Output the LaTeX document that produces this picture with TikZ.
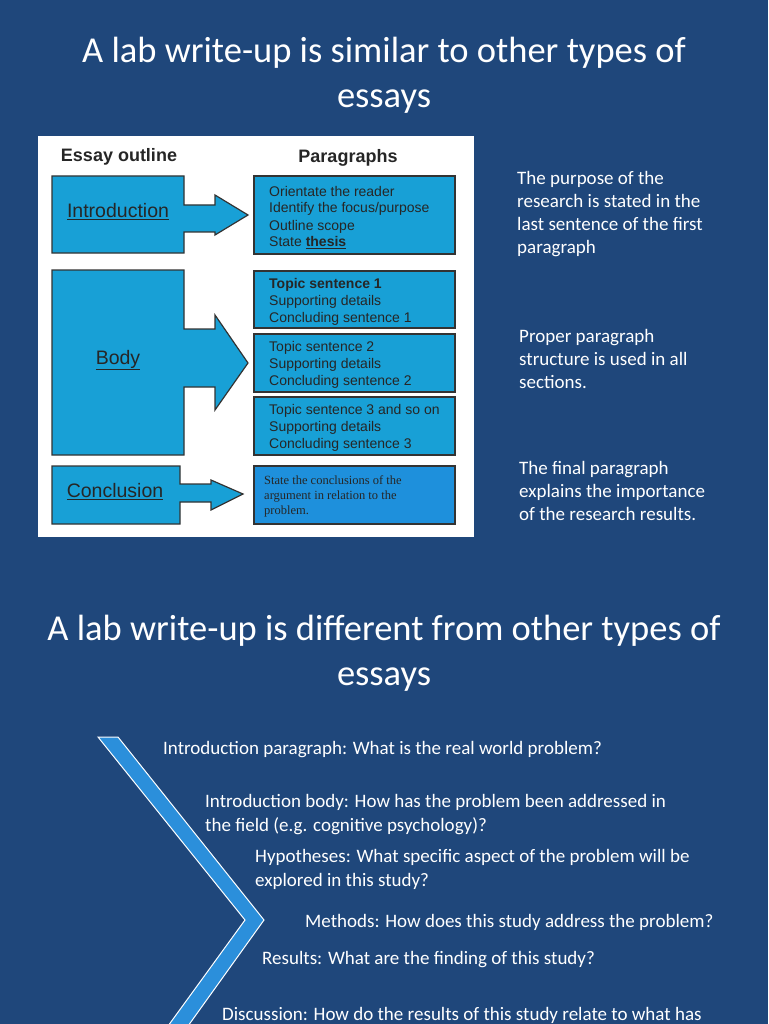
\documentclass[tikz,border=0pt]{standalone}
\usepackage{fontspec}
\setmainfont{Carlito}
\newfontfamily\arialf{Liberation Sans}
\newfontfamily\timesf{Liberation Serif}
\definecolor{bg}{HTML}{1F477B}
\definecolor{boxblue}{HTML}{18A0D6}
\definecolor{boxblue2}{HTML}{1E90DC}
\definecolor{chev}{HTML}{2B8FDB}
\tikzset{
  title/.style={text=white,font=\fontsize{36.5}{45}\selectfont,align=center},
  side/.style={text=white,font=\fontsize{19}{23}\selectfont,align=left,anchor=base west,inner sep=0pt},
  q/.style={text=white,font=\fontsize{19}{24}\selectfont,align=left,anchor=base west,inner sep=0pt},
  shp/.style={fill=boxblue,draw=black!80,line width=1.2pt},
  para/.style={anchor=base west,inner sep=0pt,align=left,font=\arialf\fontsize{14}{17}\selectfont,text=black!85},
  lbl/.style={font=\arialf\fontsize{19.5}{22}\selectfont,text=black!85},
  hdr/.style={font=\arialf\bfseries\fontsize{18}{20}\selectfont,text=black!85},
}
\begin{document}
\begin{tikzpicture}[x=1pt,y=-1pt]
\fill[bg] (0,0) rectangle (768,1024);
\useasboundingbox (0,0) rectangle (768,1024);
\node[title] (t1) at (384,75) {A lab write-up is similar to other types of\\essays};
% diagram
\fill[white] (38,136) rectangle (474,537);
\node[hdr] (h1) at (119,157) {Essay outline};
\node[hdr] (h2) at (348,158) {Paragraphs};
\draw[shp] (52,176) -- (184,176) -- (184,205) -- (215,205) -- (215,195) -- (248,215) -- (215,235) -- (215,232) -- (184,232) -- (184,253) -- (52,253) -- cycle;
\draw[shp] (52,270) -- (184,270) -- (184,329) -- (215,329) -- (215,315) -- (248,363) -- (215,410) -- (215,387) -- (184,387) -- (184,455) -- (52,455) -- cycle;
\draw[shp] (52,466) -- (180,466) -- (180,484) -- (211,484) -- (211,480) -- (243,494) -- (211,510) -- (211,502) -- (180,502) -- (180,524) -- (52,524) -- cycle;
\node[lbl] (l1) at (118,212) {\underline{Introduction}};
\node[lbl] (l2) at (118,360) {\underline{Body}};
\node[lbl] (l3) at (115,492) {\underline{Conclusion}};
\draw[shp] (254,176) rectangle (455,254);
\draw[shp] (254,271) rectangle (455,328);
\draw[shp] (254,334) rectangle (455,392);
\draw[shp] (254,397) rectangle (455,455);
\draw[shp,fill=boxblue2] (254,466) rectangle (455,524);
\node[para] (p1) at (269,247) {Orientate the reader\\Identify the focus/purpose\\Outline scope\\State \textbf{\underline{thesis}}};
\node[para] (p2) at (269,322) {\textbf{Topic sentence 1}\\Supporting details\\Concluding sentence 1};
\node[para] (p3) at (269,385) {Topic sentence 2\\Supporting details\\Concluding sentence 2};
\node[para] (p4) at (269,448) {Topic sentence 3 and so on\\Supporting details\\Concluding sentence 3};
\node[para,font=\timesf\fontsize{12.5}{15}\selectfont] (p5) at (264,514) {State the conclusions of the\\argument in relation to the\\problem.};
% side notes
\node[side] (s1) at (517,253) {The purpose of the\\research is stated in the\\last sentence of the first\\paragraph};
\node[side] (s2) at (519,388) {Proper paragraph\\structure is used in all\\sections.};
\node[side] (s3) at (519,520) {The final paragraph\\explains the importance\\of the research results.};
% second title
\node[title] (t2) at (384,653) {A lab write-up is different from other types of\\essays};
% chevron
\draw[fill=chev,draw=white,line width=1pt] (98,737) -- (118,737) -- (264,920) -- (188,1026) -- (168,1026) -- (245,920) -- cycle;
\node[q] (q1) at (163,754) {Introduction paragraph: What is the real world problem?};
\node[q] (q2) at (205,831) {Introduction body: How has the problem been addressed in\\the field (e.g. cognitive psychology)?};
\node[q] (q3) at (255,886) {Hypotheses: What specific aspect of the problem will be\\explored in this study?};
\node[q] (q4) at (305,927) {Methods: How does this study address the problem?};
\node[q] (q5) at (262,964) {Results: What are the finding of this study?};
\node[q] (q6) at (222,1020) {Discussion: How do the results of this study relate to what has};
\end{tikzpicture}
\end{document}
